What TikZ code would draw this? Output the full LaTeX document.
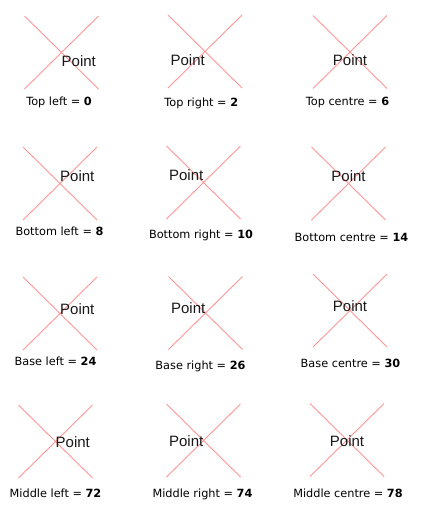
\documentclass[tikz,border=0pt]{standalone}
\usepackage{fontspec}
\setmainfont{DejaVu Sans}
\newfontfamily\ptfont{Liberation Sans}
\usetikzlibrary{calc}
\definecolor{xred}{RGB}{255,150,150}
\definecolor{ptgray}{RGB}{25,25,25}
\newcommand\mycross[3]{%
  \coordinate (#1) at (#2,#3);
  \draw[crossline] (#1) ++(-37,-36.5) -- ++(74,73);
  \draw[crossline] (#1) ++(37,-36.5) -- ++(-74,73);
}
\begin{document}
\begin{tikzpicture}[x=1pt,y=-1pt,
  crossline/.style={draw=xred,line width=0.9pt},
  pt/.style={font=\ptfont\fontsize{15}{18}\selectfont,inner sep=0pt,text=ptgray},
  lbl/.style={font=\fontsize{11.3}{13}\selectfont,inner sep=0pt,anchor=base}]
\useasboundingbox (0,0) rectangle (422,515);
\fill[white] (0,0) rectangle (422,515);
% row 1: top
\mycross{c1}{61.5}{52.5}
\mycross{c2}{205}{51.5}
\mycross{c3}{350}{52}
\node[pt,anchor=base west] (p1) at ([yshift=-13.6pt]c1) {Point};
\node[pt,anchor=base east] (p2) at ([yshift=-13.6pt]c2) {Point};
\node[pt,anchor=base] (p3) at ([yshift=-13.6pt]c3) {Point};
\node[lbl] (l1) at (59,105.5) {Top left = \textbf{0}};
\node[lbl] (l2) at (201.3,106) {Top right = \textbf{2}};
\node[lbl] (l3) at (347.5,105.5) {Top centre = \textbf{6}};
% row 2: bottom
\mycross{c4}{60}{183.5}
\mycross{c5}{203.5}{182.5}
\mycross{c6}{348.5}{183.5}
\node[pt,anchor=base west] (p4) at ([yshift=2.5pt]c4) {Point};
\node[pt,anchor=base east] (p5) at ([yshift=2.5pt]c5) {Point};
\node[pt,anchor=base] (p6) at ([yshift=2.5pt]c6) {Point};
\node[lbl] (l4) at (59.5,235) {Bottom left = \textbf{8}};
\node[lbl] (l5) at (201,238) {Bottom right = \textbf{10}};
\node[lbl] (l6) at (351.5,241.5) {Bottom centre = \textbf{14}};
% row 3: base
\mycross{c7}{60}{313.5}
\mycross{c8}{205.5}{313}
\mycross{c9}{350}{310.5}
\node[pt,anchor=base west] (p7) at ([yshift=-0.5pt]c7) {Point};
\node[pt,anchor=base east] (p8) at ([yshift=-0.5pt]c8) {Point};
\node[pt,anchor=base] (p9) at ([yshift=-0.5pt]c9) {Point};
\node[lbl] (l7) at (55.5,365) {Base left = \textbf{24}};
\node[lbl] (l8) at (200.5,369) {Base right = \textbf{26}};
\node[lbl] (l9) at (350.5,367) {Base centre = \textbf{30}};
% row 4: middle
\mycross{c10}{55.5}{441.5}
\mycross{c11}{203.5}{440.5}
\mycross{c12}{347}{440}
\node[pt,anchor=base west] (p10) at ([yshift=-6.3pt]c10) {Point};
\node[pt,anchor=base east] (p11) at ([yshift=-6.3pt]c11) {Point};
\node[pt,anchor=base] (p12) at ([yshift=-6.3pt]c12) {Point};
\node[lbl] (l10) at (55.5,497.5) {Middle left = \textbf{72}};
\node[lbl] (l11) at (202.5,497) {Middle right = \textbf{74}};
\node[lbl] (l12) at (348,497.5) {Middle centre = \textbf{78}};
\end{tikzpicture}
\end{document}
